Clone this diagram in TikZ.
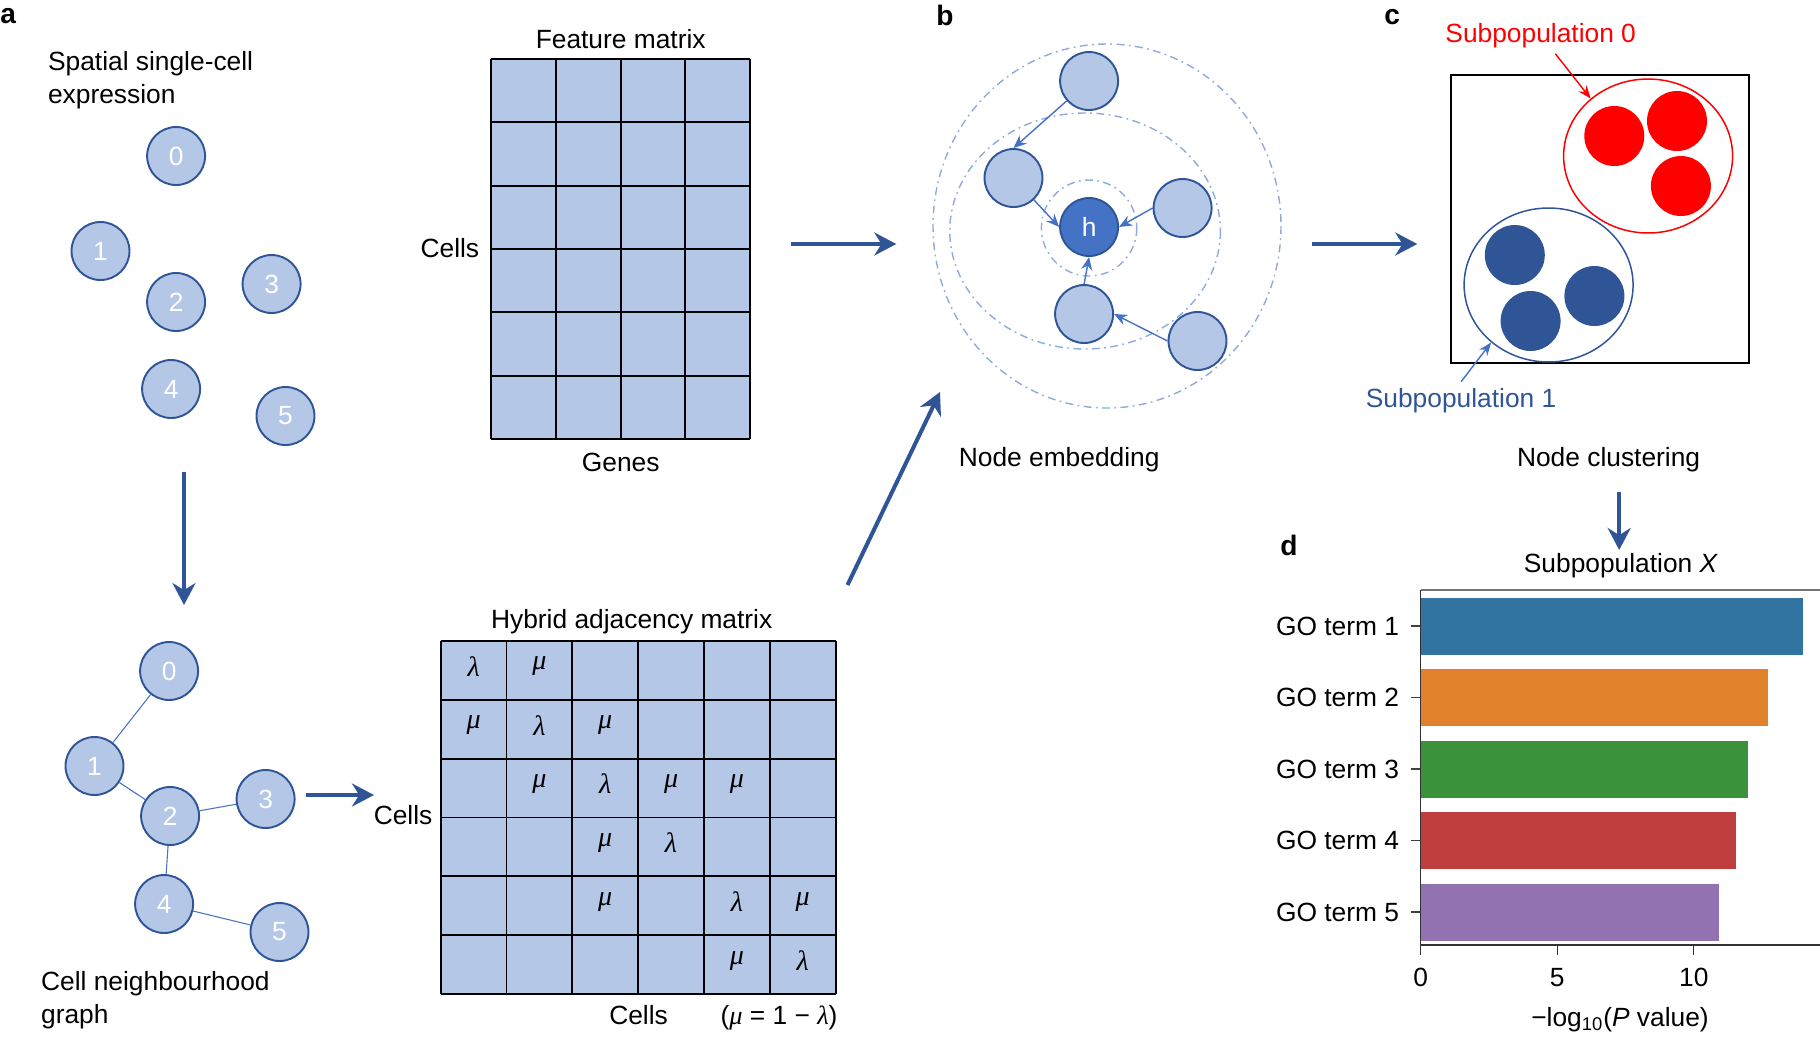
\documentclass[tikz,border=0pt]{standalone}
\usepackage{fontspec}
\setmainfont{Liberation Sans}
\newfontfamily\grkfont{Liberation Serif}
\usepackage{tikz}
\usetikzlibrary{%
  arrows.meta,
  positioning,
  shapes.geometric,
}

\definecolor{cellblue}{HTML}{B4C7E7}
\definecolor{edgeblue}{HTML}{2F5597}
\definecolor{hblue}{HTML}{4472C4}
\definecolor{ringblue}{HTML}{8FAADC}
\definecolor{barone}{HTML}{3274A1}
\definecolor{bartwo}{HTML}{E1812C}
\definecolor{barthree}{HTML}{3A923A}
\definecolor{barfour}{HTML}{C03D3E}
\definecolor{barfive}{HTML}{9372B2}

\newcommand{\symlam}{{\grkfont\itshape λ}}
\newcommand{\symmu}{{\grkfont\itshape μ}}

\tikzset{
  cellnode/.style = {circle, draw = edgeblue, fill = cellblue,
    line width = 1.1pt, minimum size = 1.16cm, inner sep = 0pt, text = white},
  flowarrow/.style = {draw = edgeblue, line width = 2.3pt,
    -{Stealth[length = 0.44cm, width = 0.46cm]}},
  msgarrow/.style = {draw = hblue, line width = 0.8pt,
    -{Stealth[length = 0.26cm, width = 0.22cm]}},
  ringline/.style = {draw = ringblue, line width = 0.8pt,
    dash pattern = on 4.5pt off 2.5pt on 1pt off 2.5pt},
  graphedge/.style = {draw = hblue, line width = 0.6pt},
  gridline/.style = {draw = black, line width = 1.1pt},
  panel/.style = {font = \fontsize{16}{19}\selectfont\bfseries, inner sep = 0pt},
  clusterdot/.style = {circle, minimum size = 1.2cm, inner sep = 0pt},
  clustergroup/.style = {ellipse, minimum width = 3.38cm, minimum height = 3.08cm,
    inner sep = 0pt, line width = 0.85pt},
  greekcell/.style = {font = \fontsize{16}{18}\selectfont, inner sep = 0pt},
}

\begin{document}
\begin{tikzpicture}[x = 0.02cm, y = -0.02cm, font = \fontsize{15}{18.7}\selectfont]
  \useasboundingbox (0,0) rectangle (1820,1036);

  % panel labels
  \node[panel, anchor = base west] (la) at (0,23) {a};
  \node[panel, anchor = base west] (lb) at (936,25) {b};
  \node[panel, anchor = base west] (lc) at (1384,24) {c};
  \node[panel, anchor = base west] (ld) at (1280,555) {d};

  % a: spatial cells
  \node[anchor = north west, inner sep = 0pt, align = left] (spatial) at (47.7,51)
    {Spatial single-cell\\expression};
  \node[cellnode] (s0) at (176.1,156) {0};
  \node[cellnode] (s1) at (100.5,251) {1};
  \node[cellnode] (s2) at (176.1,302) {2};
  \node[cellnode] (s3) at (271.6,284) {3};
  \node[cellnode] (s4) at (171.1,389) {4};
  \node[cellnode] (s5) at (285.5,416) {5};

  % a: feature matrix
  \fill[cellblue] (491.4,59) rectangle (750,439);
  \foreach \i in {0,...,4}
    \draw[gridline] ({491.4+\i*64.65},59) -- ++(0,380);
  \foreach \j in {0,...,6}
    \draw[gridline] (491.4,{59+\j*63.33}) -- ++(258.6,0);
  \node[anchor = base] (featname) at (620.7,48) {Feature matrix};
  \node[anchor = east, inner sep = 0pt] (featcells) at (479.5,248) {Cells};
  \node[anchor = base] (genes) at (620.7,471) {Genes};

  % a: neighbourhood graph
  \node[cellnode] (g0) at (169.1,671) {0};
  \node[cellnode] (g1) at (94.5,766) {1};
  \node[cellnode] (g2) at (170.1,816) {2};
  \node[cellnode] (g3) at (265.6,799) {3};
  \node[cellnode] (g4) at (164.1,904) {4};
  \node[cellnode] (g5) at (279.5,932) {5};
  \draw[graphedge] (g0) -- (g1);
  \draw[graphedge] (g1) -- (g2);
  \draw[graphedge] (g2) -- (g3);
  \draw[graphedge] (g2) -- (g4);
  \draw[graphedge] (g4) -- (g5);
  \node[anchor = north west, inner sep = 0pt, align = left] (graphname) at (40.8,971)
    {Cell neighbourhood\\graph};

  % a: hybrid adjacency matrix
  \fill[cellblue] (440.7,641) rectangle (835.6,994);
  \foreach \i in {0,...,6} {
    \draw[gridline] ({440.7+\i*65.82},641) -- ++(0,353);
    \draw[gridline] (440.7,{641+\i*58.83}) -- ++(394.9,0);
  }
  \foreach \c/\r/\s in {1/1/\symlam, 2/1/\symmu,
      1/2/\symmu, 2/2/\symlam, 3/2/\symmu,
      2/3/\symmu, 3/3/\symlam, 4/3/\symmu, 5/3/\symmu,
      3/4/\symmu, 4/4/\symlam,
      3/5/\symmu, 5/5/\symlam, 6/5/\symmu,
      5/6/\symmu, 6/6/\symlam}
    \node[greekcell] (h\c\r) at ({440.7+(\c-0.5)*65.82},{641+(\r-0.5)*58.83-4}) {\s};
  \node[anchor = base] (hybname) at (631.7,628) {Hybrid adjacency matrix};
  \node[anchor = east, inner sep = 0pt] (hybcells) at (432.7,815) {Cells};
  \node[anchor = base] (hybcols) at (638.6,1024) {Cells};
  \node[anchor = base] (hybnote) at (779,1024) {(\symmu{} = 1 − \symlam)};

  % flow arrows
  \coordinate (downA) at (184,472);
  \coordinate (downB) at (184,605);
  \coordinate (graphA) at (306.4,795);
  \coordinate (graphB) at (374,795);
  \coordinate (featA) at (790.8,244);
  \coordinate (featB) at (896.3,244);
  \coordinate (hybA) at (847.5,585);
  \coordinate (hybB) at (940,392);
  \coordinate (embA) at (1312,244);
  \coordinate (embB) at (1417.3,244);
  \coordinate (cluA) at (1619.2,492);
  \coordinate (cluB) at (1619.2,550);
  \draw[flowarrow] (downA) -- (downB);
  \draw[flowarrow] (graphA) -- (graphB);
  \draw[flowarrow] (featA) -- (featB);
  \draw[flowarrow] (hybA) -- (hybB);
  \draw[flowarrow] (embA) -- (embB);
  \draw[flowarrow] (cluA) -- (cluB);

  % b: node embedding
  \node[cellnode, fill = hblue] (hn) at (1089.1,227) {h};
  \draw[ringline] (1107,226) ellipse [x radius = 174, y radius = 182];
  \draw[ringline] (1085.1,231) ellipse [x radius = 135.3, y radius = 118];
  \draw[ringline] (1089.1,228) ellipse [x radius = 47.7, y radius = 48];
  \node[cellnode] (nbtop) at (1089.1,81) {};
  \node[cellnode] (nbleft) at (1013.5,178) {};
  \node[cellnode] (nbright) at (1182.6,208) {};
  \node[cellnode] (nbbot) at (1084.1,314) {};
  \node[cellnode] (nbfar) at (1197.5,341) {};
  \draw[msgarrow] (nbtop) -- (nbleft.north);
  \draw[msgarrow] (nbleft) -- (hn.west);
  \draw[msgarrow] (nbright.west) -- (hn.east);
  \draw[msgarrow] (nbbot.north) -- (hn.south);
  \draw[msgarrow] (nbfar.west) -- (nbbot.east);
  \node[anchor = base] (embname) at (1059.2,466) {Node embedding};

  % c: node clustering
  \draw[line width = 1.1pt] (1451.1,75) rectangle (1748.6,363);
  \node[clustergroup, draw = red] (redgroup) at (1648.1,156) {};
  \node[clustergroup, draw = edgeblue] (bluegroup) at (1548.6,285) {};
  \node[clusterdot, fill = red] (r1) at (1614.3,136) {};
  \node[clusterdot, fill = red] (r2) at (1677,121) {};
  \node[clusterdot, fill = red] (r3) at (1680.9,186) {};
  \node[clusterdot, fill = edgeblue] (b1) at (1514.8,255) {};
  \node[clusterdot, fill = edgeblue] (b2) at (1594.4,296) {};
  \node[clusterdot, fill = edgeblue] (b3) at (1530.6,321) {};
  \node[anchor = base, text = red] (sub0) at (1540.7,42) {Subpopulation 0};
  \node[anchor = base, text = edgeblue] (sub1) at (1461.1,407) {Subpopulation 1};
  \draw[red, line width = 0.8pt, -{Stealth[length = 0.26cm, width = 0.2cm]}]
    (sub0) -- (redgroup.135);
  \draw[hblue, line width = 0.8pt, -{Stealth[length = 0.26cm, width = 0.2cm]}]
    (sub1.north) -- (bluegroup.225);
  \node[anchor = base] (cluname) at (1608.6,466) {Node clustering};

  % d: GO terms
  \node[anchor = base] (subx) at (1621,572) {Subpopulation \textit{X}};
  \foreach \i/\v/\col in {1/13.98/barone, 2/12.71/bartwo, 3/11.98/barthree,
      4/11.54/barfour, 5/10.92/barfive} {
    \fill[\col] (1420.6,{626+(\i-1)*71.5-28.5}) rectangle ({1420.6+\v*27.32},{626+(\i-1)*71.5+28.5});
    \draw[black!75, line width = 0.6pt] (1410.6,{626+(\i-1)*71.5}) -- ++(10,0);
    \node[anchor = east, inner sep = 0pt] (go\i) at (1399.4,{626+(\i-1)*71.5}) {GO term \i};
  }
  \draw[black!55, line width = 0.7pt] (1420.6,590) -- (1820,590);
  \draw[black!80, line width = 0.7pt] (1420.6,590) -- (1420.6,945) -- (1820,945);
  \foreach \t in {0,5,10} {
    \draw[black!80, line width = 0.6pt] ({1420.6+\t*27.32},945) -- ++(0,10);
    \node[anchor = base] (tick\t) at ({1420.6+\t*27.32},986) {\t};
  }
  \node[anchor = base] (xname) at (1620,1026) {−log\textsubscript{10}(\textit{P} value)};
\end{tikzpicture}
\end{document}
